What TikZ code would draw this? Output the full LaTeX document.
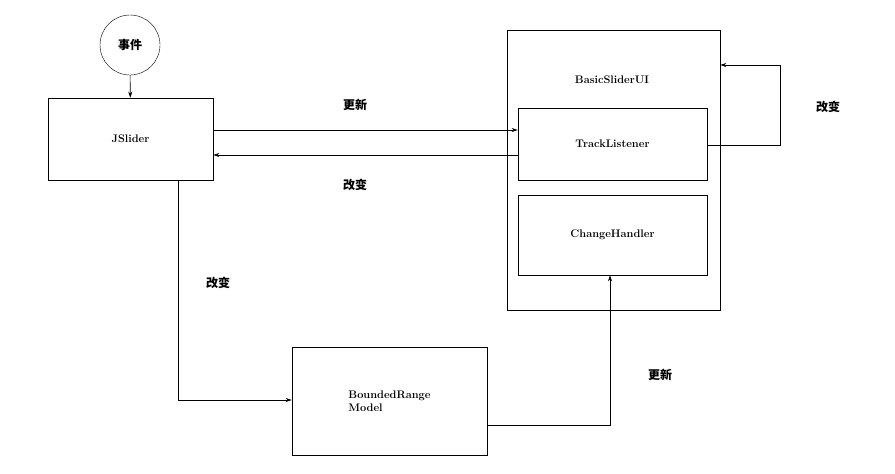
\documentclass[tikz,border=0pt]{standalone}
\usepackage{fontspec}
\newfontfamily\cjk{Noto Sans CJK SC}
\usetikzlibrary{arrows.meta}
\begin{document}
\begin{tikzpicture}[x=1pt,y=-1pt,
  box/.style={draw,line width=0.6pt,inner sep=0pt},
  lab/.style={font=\cjk\bfseries\fontsize{12}{14}\selectfont},
  txt/.style={font=\bfseries\fontsize{11}{13}\selectfont},
  arr/.style={-{Stealth[length=6pt,width=4pt]},line width=0.6pt}]
\useasboundingbox (0,0) rectangle (895,474);
\node[draw,circle,minimum size=60pt,inner sep=0pt,lab] (ev) at (130,45) {事件};
\node[box,minimum width=165pt,minimum height=82pt,txt] (js) at (130.5,139) {JSlider};
\node[box,minimum width=213pt,minimum height=280pt] (ui) at (613.5,170) {};
\node[txt] (uit) at (612,80) {BasicSliderUI};
\node[box,minimum width=189pt,minimum height=72pt,txt] (tl) at (612.5,144) {TrackListener};
\node[box,minimum width=189pt,minimum height=80pt,txt] (ch) at (612.5,235) {ChangeHandler};
\node[box,minimum width=195pt,minimum height=108pt,txt,align=left] (bm) at (389.5,401) {BoundedRange\\Model};
\coordinate (c1) at (780,145);
\coordinate (c2) at (780,65);
\draw[arr] (ev) -- (js);
\draw[arr] (js.east |- 0,130) -- (tl.west |- 0,130);
\draw[arr] (tl.west |- 0,155) -- (js.east |- 0,155);
\draw[arr] (tl.east |- c1) -- (c1) -- (c2) -- (ui.east |- c2);
\draw[arr] (js.south -| 178,0) -- (178,400) -- (bm.west |- 0,400);
\draw[arr] (bm.east |- 0,425) -- (610,425) -- (ch.south -| 610,0);
\node[lab] (l1) at (355,105) {更新};
\node[lab] (l2) at (355,185) {改变};
\node[lab] (l3) at (828,107) {改变};
\node[lab] (l4) at (218,283) {改变};
\node[lab] (l5) at (660,375) {更新};
\end{tikzpicture}
\end{document}
